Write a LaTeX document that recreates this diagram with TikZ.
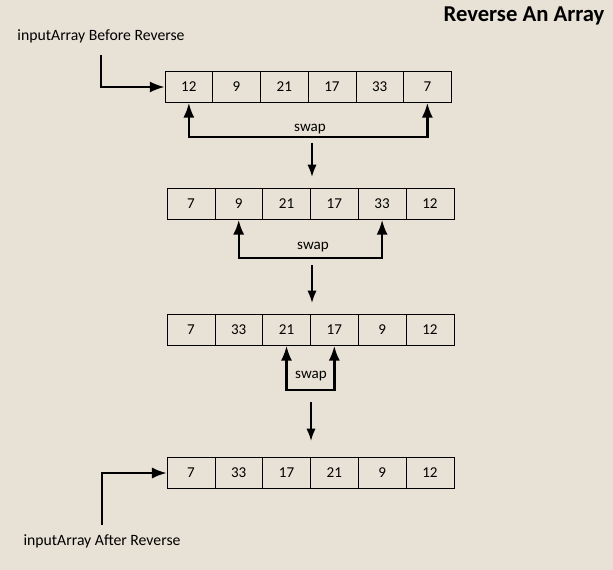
\documentclass[tikz,border=0pt]{standalone}
\usepackage{fontspec}
\setmainfont{Carlito}
\usepackage{tikz}
\usetikzlibrary{arrows.meta}
\definecolor{paper}{HTML}{E8E1D5}

\begin{document}
\begin{tikzpicture}[x=0.75pt,y=-0.75pt,
    cell/.style={draw,minimum width=35.8pt,minimum height=23.3pt,inner sep=0pt,font=\fontsize{11.3}{13}\selectfont},
    swapline/.style={line width=1.8pt,Latex-Latex},
    downline/.style={line width=1.4pt,-Latex},
    pointer/.style={line width=1.8pt,-Latex},
    note/.style={font=\fontsize{11.8}{14}\selectfont}]
      \fill[paper] (0,0) rectangle (613,570);
      \useasboundingbox (0,0) rectangle (613,570);
      \node[font=\fontsize{17}{20}\bfseries] (title) at (524,16) {Reverse An Array};
      % rows of the array
      \foreach \v [count=\i] in {12,9,21,17,33,7}
        \node[cell] (a\i) at ({165+47.7*(\i-0.5)},87) {\v};
      \foreach \v [count=\i] in {7,9,21,17,33,12}
        \node[cell] (b\i) at ({167+47.8*(\i-0.5)},204) {\v};
      \foreach \v [count=\i] in {7,33,21,17,9,12}
        \node[cell] (c\i) at ({167+47.8*(\i-0.5)},330) {\v};
      \foreach \v [count=\i] in {7,33,17,21,9,12}
        \node[cell] (d\i) at ({167+47.8*(\i-0.5)},473) {\v};
      % swaps
      \node[note,font=\fontsize{11.3}{13}\selectfont] (sw1) at (310,129) {swap};
      \node[note,font=\fontsize{11.3}{13}\selectfont] (sw2) at (313,247) {swap};
      \node[note,font=\fontsize{11.3}{13}\selectfont] (sw3) at (311,376) {swap};
      \coordinate (s1) at (310,137);
      \coordinate (s2) at (313,258);
      \coordinate (s3) at (311,390);
      \draw[swapline] (a1.south) |- (s1) -| (a6.south);
      \draw[swapline] (b2.south) |- (s2) -| (b5.south);
      \draw[swapline] (c3.south) |- (s3) -| (c4.south);
      % steps down
      \coordinate (t1) at (312,143);
      \coordinate (u1) at (312,177);
      \coordinate (t2) at (312,265);
      \coordinate (u2) at (312,303);
      \coordinate (t3) at (311,402);
      \coordinate (u3) at (311,441);
      \draw[downline] (t1) -- (u1);
      \draw[downline] (t2) -- (u2);
      \draw[downline] (t3) -- (u3);
      % labels
      \node[note] (before) at (101,36) {inputArray Before Reverse};
      \node[note] (after) at (102,541) {inputArray After Reverse};
      \coordinate (p1) at (101,55);
      \coordinate (p2) at (102,525);
      \draw[pointer] (p1) |- (a1.west);
      \draw[pointer] (p2) |- (d1.west);
    \end{tikzpicture}
\end{document}
